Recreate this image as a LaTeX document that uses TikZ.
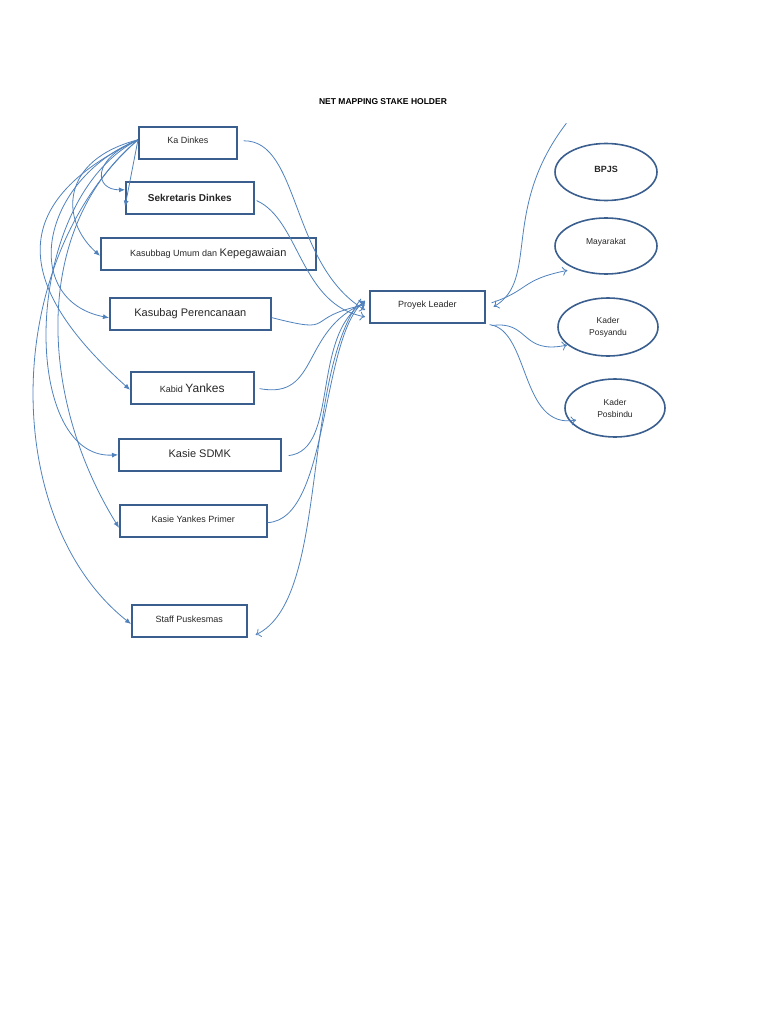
\documentclass[tikz,border=0pt]{standalone}
\usepackage{fontspec}
\setmainfont{Liberation Sans}
\usetikzlibrary{shapes.geometric,arrows.meta}
\definecolor{bx}{HTML}{3A5F8F}
\definecolor{ln}{HTML}{4F81BD}
\begin{document}
\begin{tikzpicture}[x=1pt,y=-1pt,
 box/.style={draw=bx,line width=1.6pt,minimum height=32pt,inner sep=0pt,font=\fontsize{9}{10}\selectfont,text=black!85},
 ell/.style={draw=bx,line width=1.6pt,ellipse,inner sep=0pt,align=center,font=\fontsize{8.5}{12}\selectfont,text=black!85},
 la/.style={ln,line width=0.8pt,-{Latex[length=6pt,width=5pt]}},
 ra/.style={ln,line width=0.8pt,-{To[length=5pt,width=9pt]}}]
\useasboundingbox (0,0) rectangle (768,1024);
\node[font=\fontsize{8.5}{10}\selectfont\bfseries] (t) at (383,102) {NET MAPPING STAKE HOLDER};
\node[box,minimum width=98pt,anchor=north west] (kd) at (138,126) {\raisebox{6pt}{Ka Dinkes}};
\node[box,minimum width=128pt,anchor=north west,font=\fontsize{10}{12}\selectfont\bfseries] (sk) at (125,181) {Sekretaris Dinkes};
\node[box,minimum width=215pt,anchor=north west] (ku) at (100,237) {Kasubbag Umum dan {\fontsize{11}{12}\selectfont Kepegawaian}};
\node[box,minimum width=161pt,anchor=north west,font=\fontsize{11}{12}\selectfont] (kp) at (109,297) {Kasubag Perencanaan};
\node[box,minimum width=123pt,anchor=north west] (ky) at (130,371) {Kabid {\fontsize{12}{12}\selectfont Yankes}\hspace{20pt}};
\node[box,minimum width=162pt,anchor=north west,font=\fontsize{11}{12}\selectfont] (sd) at (118,438) {\raisebox{3pt}{Kasie SDMK}};
\node[box,minimum width=147pt,anchor=north west] (yp) at (119,504) {\raisebox{4pt}{Kasie Yankes Primer}};
\node[box,minimum width=115pt,anchor=north west] (sp) at (131,604) {\raisebox{3pt}{Staff Puskesmas}};
\node[box,minimum width=115pt,anchor=north west] (pl) at (369,290) {\raisebox{5pt}{Proyek Leader}};
\node[ell,minimum width=102pt,minimum height=57pt,font=\fontsize{9}{12}\selectfont\bfseries] (bp) at (606,172) {\raisebox{6pt}{BPJS}};
\node[ell,minimum width=102pt,minimum height=56pt] (my) at (606,246) {\raisebox{10pt}{Mayarakat}};
\node[ell,minimum width=100pt,minimum height=58pt] (po) at (608,327) {Kader\\Posyandu};
\node[ell,minimum width=100pt,minimum height=58pt] (pb) at (615,408) {Kader\\Posbindu};
% left fan
\draw[la] ([yshift=3pt]kd.west) .. controls (90,160) and (95,190) .. ([yshift=8pt]sk.west);
\draw[la] ([yshift=3pt]kd.west) .. controls (60,160) and (60,220) .. ([yshift=-2pt]ku.west);
\draw[la] ([yshift=3pt]kd.west) .. controls (40,180) and (20,300) .. ([yshift=-4pt]kp.west);
\draw[la] ([yshift=3pt]kd.west) .. controls (-10,210) and (30,300) .. ([yshift=-2pt]ky.west);
\draw[la] ([yshift=3pt]kd.west) .. controls (20,200) and (20,460) .. (sd.west);
\draw[la] ([yshift=3pt]kd.west) .. controls (30,230) and (40,400) .. ([yshift=-7pt]yp.west);
\draw[la] ([yshift=3pt]kd.west) .. controls (0,260) and (0,520) .. ([yshift=-20pt]sp.north west);
\draw[la] ([yshift=3pt]kd.west) -- ([yshift=8pt]sk.south west);
% to proyek leader
\draw[ra] ([xshift=6pt,yshift=2pt]kd.east) .. controls (300,140) and (290,265) .. ([xshift=-4pt,yshift=-20pt]pl.north west);
\draw[ra] ([xshift=2pt,yshift=14pt]sk.south east) .. controls (300,220) and (300,305) .. ([xshift=-4pt,yshift=-10pt]pl.west);
\draw[ra] ([yshift=13pt]kp.south east) .. controls (340,335) and (300,318) .. ([xshift=-4pt,yshift=2pt]pl.west);
\draw[ra] ([xshift=5pt,yshift=16pt]ky.south east) .. controls (320,400) and (300,330) .. ([xshift=-4pt,yshift=4pt]pl.west);
\draw[ra] ([xshift=7pt,yshift=16pt]sd.south east) .. controls (340,450) and (310,335) .. ([xshift=-4pt,yshift=5pt]pl.west);
\draw[ra] ([yshift=15pt]yp.south east) .. controls (330,520) and (320,335) .. ([xshift=-4pt,yshift=6pt]pl.west);
\draw[ra] ([xshift=-8pt,yshift=8pt]pl.west) .. controls (300,380) and (330,600) .. ([xshift=8pt,yshift=-14pt]sp.east);
% right
\draw[ra,{To[length=5pt,width=9pt]}-] ([xshift=8pt]pl.east) .. controls (540,280) and (500,210) .. ([xshift=-3pt,yshift=28pt]bp.north west);
\draw[ra] ([xshift=6pt,yshift=4pt]pl.east) .. controls (530,290) and (520,280) .. ([xshift=-2pt,yshift=-4pt]my.south west);
\draw[ra] ([xshift=6pt,yshift=-2pt]pl.south east) .. controls (530,320) and (520,355) .. ([xshift=-5pt,yshift=3pt]po.south west);
\draw[ra] ([xshift=4pt,yshift=-1pt]pl.south east) .. controls (530,330) and (520,430) .. ([xshift=-3pt,yshift=9pt]pb.south west);
\end{tikzpicture}
\end{document}
